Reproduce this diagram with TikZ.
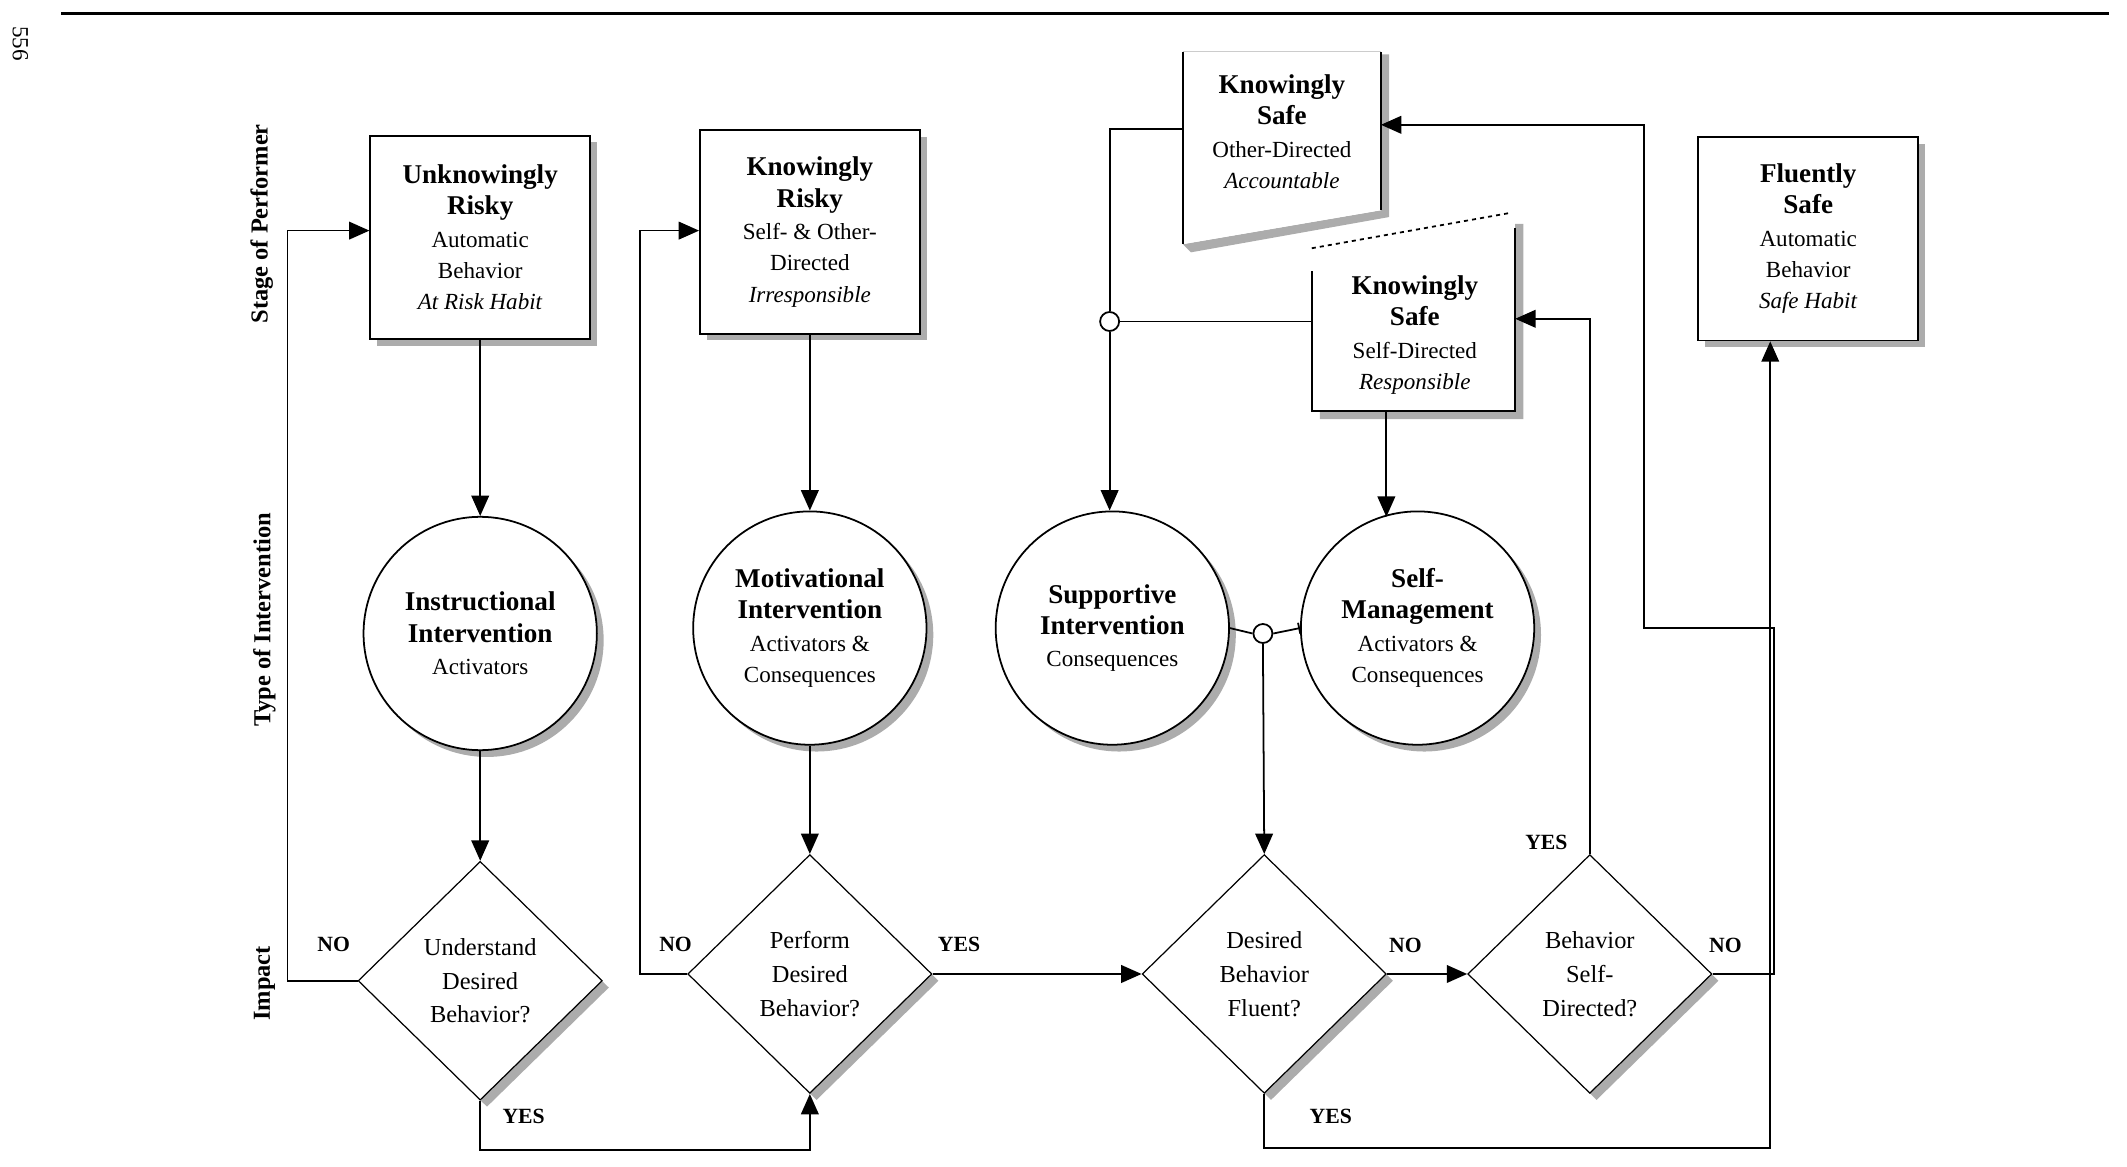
\documentclass[tikz,border=0pt]{standalone}
\usepackage{fontspec}
\setmainfont{Liberation Serif}
\usetikzlibrary{shapes.geometric,shadows,arrows.meta}
\newcommand\myT[1]{{\fontsize{20}{26}\selectfont\bfseries #1}}
\begin{document}
\begin{tikzpicture}[x=1pt,y=-1pt,line width=1.3pt,
  shd/.style={drop shadow={shadow xshift=5pt,shadow yshift=-5pt,fill=gray!65,opacity=1}},
  box/.style={draw,fill=white,shd,minimum width=162pt,minimum height=150pt,align=center,inner sep=2pt,font=\fontsize{17}{23}\selectfont},
  circ/.style={draw,fill=white,shd,circle,minimum size=172pt,align=center,inner sep=0pt,font=\fontsize{17}{23}\selectfont},
  dia/.style={draw,line width=0.9pt,fill=white,shd,diamond,aspect=1,minimum width=180pt,minimum height=176pt,align=center,inner sep=0pt,font=\fontsize{18}{25}\selectfont},
  lab/.style={font=\fontsize{16}{18}\selectfont\bfseries},
  arr/.style={-{Triangle[length=15pt,width=13pt]}},
  ln/.style={},
  side/.style={rotate=90,font=\fontsize{18}{20}\selectfont\bfseries}]
\useasboundingbox (0,0) rectangle (1568,860);
\draw[line width=2pt] (45,10) -- (1555,10);
\node[rotate=-90,font=\fontsize{17}{20}\selectfont] (pg) at (15,32) {556};
\node[side] (s1) at (193,165) {Stage of Performer};
\node[side] (s2) at (195,457) {Type of Intervention};
\node[side] (s3) at (195,725) {Impact};

% boxes
\node[box] (ur) at (354,175) {\myT{Unknowingly}\\\myT{Risky}\\[1pt]Automatic\\ Behavior\\ \textit{At Risk Habit}};
\node[box] (kr) at (597,171) {\myT{Knowingly}\\\myT{Risky}\\[1pt]Self- \& Other-\\ Directed\\ \textit{Irresponsible}};
\node[box] (fs) at (1333,176) {\myT{Fluently}\\\myT{Safe}\\[1pt]Automatic\\ Behavior\\ \textit{Safe Habit}};

% knowingly safe 1 (slanted bottom)
\fill[gray!65] (1018,40) -- (1024,40) -- (1024,160) -- (878,186) -- (872,180) -- (1018,155) -- cycle;
\fill[white] (872,38) -- (1018,38) -- (1018,155) -- (872,180) -- cycle;
\draw (1018,155) -- (1018,38);
\draw (872,38) -- (872,180);
\draw[gray!40,thin] (872,38) -- (1018,38);
\node[align=center,font=\fontsize{17}{23}\selectfont] (ks1) at (945,97) {\myT{Knowingly}\\\myT{Safe}\\[1pt]Other-Directed\\ \textit{Accountable}};
\coordinate (ks1r) at (1018,92);
\coordinate (ks1l) at (872,95);
\draw[dashed] (967,183) -- (1113,157);
% knowingly safe 2
\fill[gray!65] (1117,165) -- (1123,165) -- (1123,309) -- (973,309) -- (973,303) -- (1117,303) -- cycle;
\fill[white] (967,200) -- (1117,170) -- (1117,303) -- (967,303) -- cycle;
\draw (1117,168) -- (1117,303) -- (967,303) -- (967,200);
\node[align=center,font=\fontsize{17}{23}\selectfont] (ks2) at (1043,247) {\myT{Knowingly}\\\myT{Safe}\\[1pt]Self-Directed\\ \textit{Responsible}};
\coordinate (ks2r) at (1117,235);
\coordinate (ks2l) at (967,237);
\coordinate (ks2b) at (1022,303);

% circles
\node[circ] (ci) at (354,467) {\myT{Instructional}\\\myT{Intervention}\\[1pt]Activators};
\node[circ] (cm) at (597,463) {\myT{Motivational}\\\myT{Intervention}\\[1pt]Activators \&\\ Consequences};
\node[circ] (cs) at (820,463) {\myT{Supportive}\\\myT{Intervention}\\[1pt]Consequences};
\node[circ] (csm) at (1045,463) {\myT{Self-}\\\myT{Management}\\[1pt]Activators \&\\ Consequences};

% diamonds
\node[dia] (d1) at (354,723) {Understand\\ Desired\\ Behavior?};
\node[dia] (d2) at (597,718) {Perform\\ Desired\\ Behavior?};
\node[dia] (d3) at (932,718) {Desired\\ Behavior\\ Fluent?};
\node[dia] (d4) at (1172,718) {Behavior\\ Self-\\ Directed?};

% small junction circles
\node[draw,circle,fill=white,minimum size=14pt,inner sep=0pt] (j1) at (818,237) {};
\node[draw,circle,fill=white,minimum size=14pt,inner sep=0pt] (j2) at (931,467) {};

% connectors
\draw[arr] (ur.south) -- (ci.north);
\draw[arr] (ci.south) -- (d1.north);
\draw[arr] (kr.south) -- (cm.north);
\draw[arr] (cm.south) -- (d2.north);
\draw[arr] (d1.west) -- (212,723) -- (212,170) -- (ur.west |- 0,170);
\draw[arr] (d1.south) -- (354,848) -- (597,848) -- (d2.south);
\draw[arr] (d2.west) -- (472,718) -- (472,170) -- (kr.west |- 0,170);
\draw[arr] (d2.east) -- (d3.west);
\draw[arr] (d3.east) -- (d4.west);
\draw[arr] (d3.south) -- (932,846) -- (1305,846) -- (fs.south -| 1305,0);
\draw[arr] (d4.north) -- (1172,235) -- (ks2r);
\draw[arr] (d4.east) -- (1308,718) -- (1308,463) -- (1212,463) -- (1212,92) -- (ks1r);
\draw[ln] (ks1l) -- (818,95) -- (j1.north);
\draw[arr] (j1.south) -- (cs.north -| 818,0);
\draw[ln] (ks2l) -- (j1.east);
\draw[arr] (ks2b) -- (1022,381);
\draw[ln] (cs.east) -- (j2.west);
\draw[ln,|-] (csm.west) -- (j2.east);
\draw[arr] (j2.south) -- (d3.north);

% labels
\node[lab] (n1) at (246,696) {NO};
\node[lab] (y1) at (386,823) {YES};
\node[lab] (n2) at (498,696) {NO};
\node[lab] (y2) at (707,696) {YES};
\node[lab] (n3) at (1036,697) {NO};
\node[lab] (y3) at (981,823) {YES};
\node[lab] (y4) at (1140,621) {YES};
\node[lab] (n4) at (1272,697) {NO};
\end{tikzpicture}
\end{document}
